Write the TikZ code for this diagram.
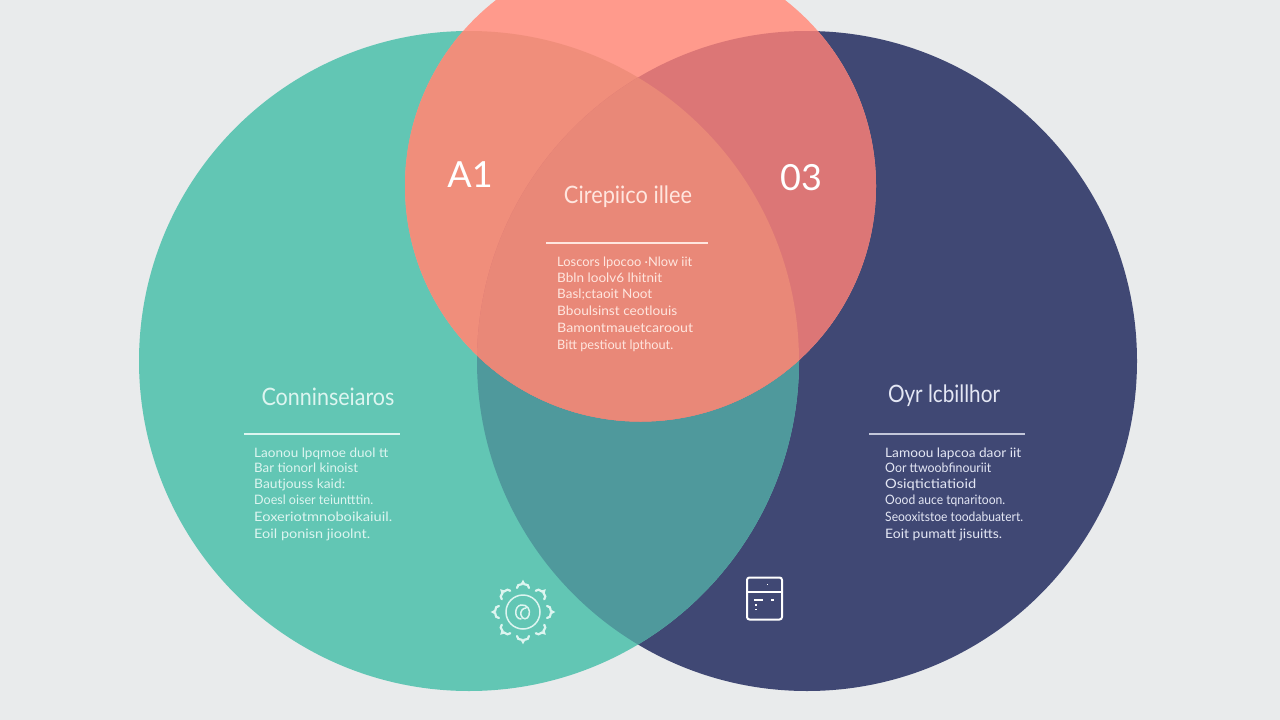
\documentclass[tikz,border=0pt]{standalone}
\usepackage{fontspec}
\usepackage{graphicx}
\setmainfont{Lato}
\definecolor{bgc}{HTML}{E9EBEC}
\definecolor{tealc}{HTML}{62C6B4}
\definecolor{navyc}{HTML}{404874}
\definecolor{coralc}{HTML}{FF9A8C}
\definecolor{tncol}{HTML}{4F999C}
\definecolor{ctcol}{HTML}{F08E7B}
\definecolor{cncol}{HTML}{DC7676}
\definecolor{midcol}{HTML}{E98878}
\definecolor{tealtx}{HTML}{DDF5F0}
\definecolor{navytx}{HTML}{E4E7F4}
\definecolor{coraltx}{HTML}{FFE6DF}
\tikzset{
  x=1pt,y=-1pt,
  titlet/.style={inner sep=0pt,font=\fontsize{24}{24}\selectfont},
  numt/.style={inner sep=0pt,text=white,font=\fontsize{36}{36}\selectfont},
  bodyt/.style={inner sep=0pt,anchor=base west,font=\fontsize{13}{13}\selectfont},
  rulel/.style={line width=1.2pt},
  iconl/.style={draw=tealtx,line width=1.8pt,line cap=round},
  boxl/.style={draw=white,line width=2pt,rounded corners=2.5pt}
}
\newcommand{\tc}{(469,361) circle[radius=330]}
\newcommand{\nc}{(807,361) circle[radius=330]}
\newcommand{\cc}{(640.5,186) circle[radius=235.5]}
\newcommand{\fitw}[2]{\resizebox{#1pt}{\height}{#2}}
\begin{document}
\begin{tikzpicture}
\useasboundingbox (0,0) rectangle (1280,720);
\fill[bgc] (0,0) rectangle (1280,720);
\begin{scope}
\clip (0,0) rectangle (1280,720);
\fill[navyc] \nc;
\fill[tealc] \tc;
\begin{scope}\clip \tc; \fill[tncol] \nc;\end{scope}
\fill[coralc] \cc;
\begin{scope}\clip \cc; \fill[ctcol] \tc; \fill[cncol] \nc;
  \begin{scope}\clip \tc; \fill[midcol] \nc;\end{scope}
\end{scope}
\end{scope}
% numbers
\node[numt] (na) at (470,175) {A1};
\node[numt] (nb) at (801,178) {03};
% centre block
\node[titlet,text=coraltx] (tm) at (628,197) {\fitw{128}{Cirepiico illee}};
\draw[rulel,draw=coraltx] (546,243) -- (708,243);
\foreach \n/\y/\w/\t in {a/266/135/Loscors lpocoo ·Nlow iit,b/282/105/Bbln loolv6 lhitnit,c/298/95/Basl;ctaoit Noot,d/315/120/Bboulsinst ceotlouis,e/332/136/Bamontmauetcaroout,f/349/116/Bitt pestiout lpthout.}{
  \node[bodyt,text=coraltx] (m\n) at (557,\y) {\fitw{\w}{\t}};
}
% left block
\node[titlet,text=tealtx] (tl) at (328,397) {\fitw{133}{Conninseiaros}};
\draw[rulel,draw=tealtx] (244,434) -- (400,434);
\foreach \n/\y/\w/\t in {a/457/134/Laonou lpqmoe duol tt,b/472/104/Bar tionorl kinoist,c/488/91/Bautjouss kaid:,d/504/119/Doesl oiser teiuntttin.,e/521/138/Eoxeriotmnoboikaiuil.,f/538/116/Eoil ponisn jioolnt.}{
  \node[bodyt,text=tealtx] (l\n) at (254,\y) {\fitw{\w}{\t}};
}
% right block
\node[titlet,text=navytx] (tr) at (944,396) {\fitw{112}{Oyr lcbillhor}};
\draw[rulel,draw=navytx!80!navyc] (869,434) -- (1025,434);
\foreach \n/\y/\w/\t in {a/457/136/Lamoou lapcoa daor iit,b/472/106/Oor ttwoobfinouriit,c/488/91/Osiqtictiatioid,d/504/120/Oood auce tqnaritoon.,e/521/138/Seooxitstoe toodabuatert.,f/538/117/Eoit pumatt jisuitts.}{
  \node[bodyt,text=navytx] (r\n) at (885,\y) {\fitw{\w}{\t}};
}
% ornament icon
\coordinate (oc) at (523,612);
\draw[iconl,line width=1.5pt] (oc) circle[radius=17];
\draw[iconl,line width=1.5pt] (521,619) .. controls (514,619) and (514,606) .. (521,605) .. controls (527,604) and (531,610) .. (529,615) .. controls (528,620) and (522,620) .. (521,615) .. controls (520,611) and (523,608) .. (526,608);
\foreach \a in {0,45,...,315}{
  \begin{scope}[shift={(oc)},rotate=\a]
  \draw[iconl,line width=2.2pt] (-6,-24) .. controls (-5,-30) and (-1,-25) .. (0,-30) .. controls (1,-25) and (5,-30) .. (6,-24);
  \end{scope}
}
% box icon
\node[minimum width=35pt,minimum height=42pt,inner sep=0pt,boxl,draw] (bx) at (764.5,598.5) {};
\draw[draw=white,line width=2pt] (bx.west |- 0,592) -- (bx.east |- 0,592);
\fill[white] (754,598.5) rectangle (763,600.5);
\fill[white] (771,598.5) rectangle (773.5,600.5);
\fill[white] (755,604) rectangle (756.5,605.5);
\fill[white] (755,608.5) rectangle (756.5,610);
\fill[white] (767,584) rectangle (768,585);
\end{tikzpicture}
\end{document}
